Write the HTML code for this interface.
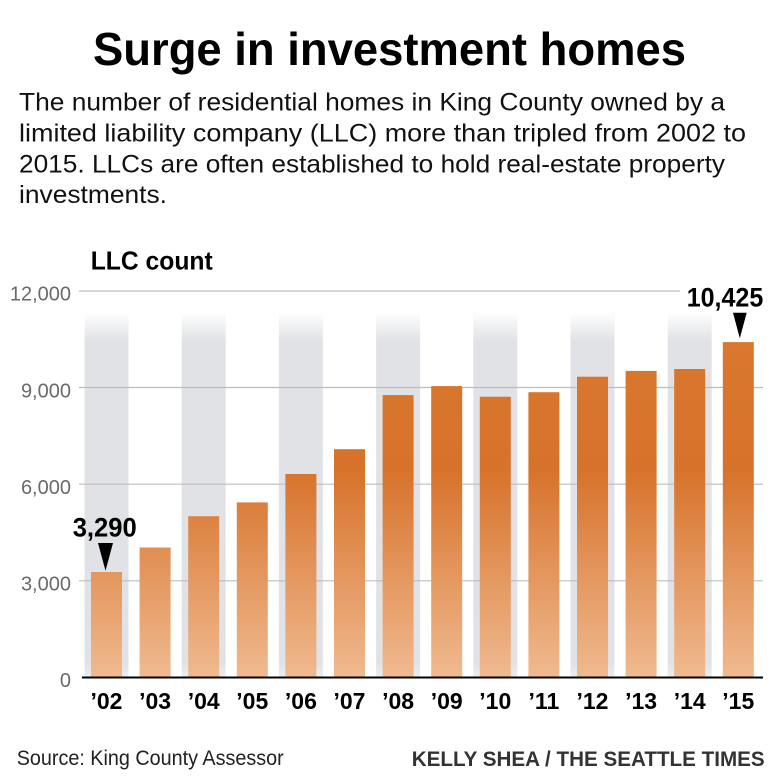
<!DOCTYPE html>
<html>
<head>
<meta charset="utf-8">
<style>
html,body{margin:0;padding:0;background:#fff;}
svg{display:block;}
text{font-family:"Liberation Sans",sans-serif;}
</style>
</head>
<body>
<svg width="780" height="780" viewBox="0 0 780 780" xmlns="http://www.w3.org/2000/svg">
<defs>
<linearGradient id="band" x1="0" y1="0" x2="0" y2="1">
<stop offset="0" stop-color="#e0e2e5" stop-opacity="0"/>
<stop offset="0.08" stop-color="#e0e2e5" stop-opacity="1"/>
<stop offset="0.96" stop-color="#e0e2e5" stop-opacity="1"/>
<stop offset="1" stop-color="#eceef0" stop-opacity="1"/>
</linearGradient>
<linearGradient id="bar" gradientUnits="userSpaceOnUse" x1="0" y1="340" x2="0" y2="678">
<stop offset="0" stop-color="#da782f"/>
<stop offset="0.38" stop-color="#d7722a"/>
<stop offset="1" stop-color="#f0ba90"/>
</linearGradient>
</defs>

<text x="389.5" y="65" text-anchor="middle" font-size="46" font-weight="bold" fill="#000" textLength="593" lengthAdjust="spacingAndGlyphs">Surge in investment homes</text>

<g font-size="25" fill="#111">
<text x="19" y="110.5" textLength="706" lengthAdjust="spacingAndGlyphs">The number of residential homes in King County owned by a</text>
<text x="19" y="141.5" textLength="727" lengthAdjust="spacingAndGlyphs">limited liability company (LLC) more than tripled from 2002 to</text>
<text x="19" y="172.5" textLength="706" lengthAdjust="spacingAndGlyphs">2015. LLCs are often established to hold real-estate property</text>
<text x="19" y="203" textLength="148" lengthAdjust="spacingAndGlyphs">investments.</text>
</g>

<text x="90.7" y="269.3" font-size="26" font-weight="bold" fill="#000" textLength="122" lengthAdjust="spacingAndGlyphs">LLC count</text>

<!-- bands -->
<g fill="url(#band)">
<rect x="84.5" y="312" width="44" height="366"/>
<rect x="181.7" y="312" width="44" height="366"/>
<rect x="278.9" y="312" width="44" height="366"/>
<rect x="376.1" y="312" width="44" height="366"/>
<rect x="473.3" y="312" width="44" height="366"/>
<rect x="570.5" y="312" width="44" height="366"/>
<rect x="667.7" y="312" width="44" height="366"/>
</g>

<!-- gridlines -->
<g stroke="#bdbdbd" stroke-width="1.2">
<line x1="79" y1="291" x2="680" y2="291"/>
<line x1="79" y1="387.5" x2="763" y2="387.5"/>
<line x1="79" y1="484.2" x2="763" y2="484.2"/>
<line x1="79" y1="580.8" x2="763" y2="580.8"/>
</g>

<!-- y labels -->
<g font-size="20" fill="#6a6a6a" text-anchor="end">
<text x="71" y="300.7">12,000</text>
<text x="71" y="397.3">9,000</text>
<text x="71" y="494">6,000</text>
<text x="71" y="590.7">3,000</text>
<text x="71" y="687">0</text>
</g>

<!-- bars -->
<g fill="url(#bar)">
<rect x="91" y="572" width="31" height="106"/>
<rect x="139.6" y="547.5" width="31" height="130.5"/>
<rect x="188.2" y="516.2" width="31" height="161.8"/>
<rect x="236.8" y="502.4" width="31" height="175.6"/>
<rect x="285.4" y="474" width="31" height="204"/>
<rect x="334" y="449.2" width="31" height="228.8"/>
<rect x="382.6" y="395.1" width="31" height="282.9"/>
<rect x="431.2" y="386.1" width="31" height="291.9"/>
<rect x="479.8" y="396.7" width="31" height="281.3"/>
<rect x="528.4" y="392.2" width="31" height="285.8"/>
<rect x="577" y="376.7" width="31" height="301.3"/>
<rect x="625.6" y="370.9" width="31" height="307.1"/>
<rect x="674.2" y="369" width="31" height="309"/>
<rect x="722.8" y="342.1" width="31" height="335.9"/>
</g>

<line x1="82" y1="677.5" x2="763" y2="677.5" stroke="#000" stroke-width="2"/>

<!-- x labels -->
<g font-size="23" font-weight="bold" fill="#000" text-anchor="middle">
<text x="106.5" y="709">’02</text>
<text x="155.1" y="709">’03</text>
<text x="203.7" y="709">’04</text>
<text x="252.3" y="709">’05</text>
<text x="300.9" y="709">’06</text>
<text x="349.5" y="709">’07</text>
<text x="398.1" y="709">’08</text>
<text x="446.7" y="709">’09</text>
<text x="495.3" y="709">’10</text>
<text x="543.9" y="709">’11</text>
<text x="592.5" y="709">’12</text>
<text x="641.1" y="709">’13</text>
<text x="689.7" y="709">’14</text>
<text x="738.3" y="709">’15</text>
</g>

<!-- annotations -->
<text x="72.7" y="536.7" font-size="27" font-weight="bold" fill="#000" textLength="64" lengthAdjust="spacingAndGlyphs">3,290</text>
<polygon points="98,543 113,543 105.5,570.7" fill="#000"/>
<text x="686.7" y="306.7" font-size="27" font-weight="bold" fill="#000" textLength="76.6" lengthAdjust="spacingAndGlyphs">10,425</text>
<polygon points="733,312.7 746.7,312.7 739.8,338.3" fill="#000"/>

<!-- footer -->
<text x="16.7" y="765" font-size="21" fill="#222" textLength="267" lengthAdjust="spacingAndGlyphs">Source: King County Assessor</text>
<text x="411.7" y="766" font-size="21" font-weight="bold" fill="#333" textLength="353" lengthAdjust="spacingAndGlyphs">KELLY SHEA / THE SEATTLE TIMES</text>
</svg>
</body>
</html>
